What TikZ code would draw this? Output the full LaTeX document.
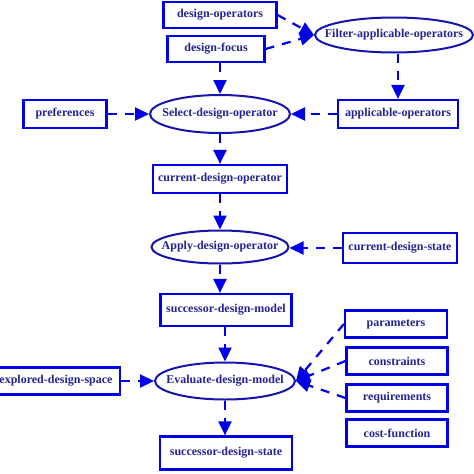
\documentclass[tikz,border=0pt]{standalone}
\usepackage{fontspec}
\setmainfont{Liberation Serif}
\usetikzlibrary{arrows.meta,shapes.geometric}
\definecolor{lineblue}{RGB}{0,0,230}
\definecolor{ellblue}{RGB}{20,20,175}
\definecolor{textblue}{RGB}{35,35,145}
\tikzset{
  lbl/.style={font=\bfseries\fontsize{12}{14}\selectfont,text=textblue},
  box/.style={draw=lineblue,line width=2.2pt,rectangle,inner sep=0pt,lbl},
  proc/.style={draw=ellblue,line width=2pt,ellipse,inner sep=0pt},
  flow/.style={draw=lineblue,line width=2.2pt,dash pattern=on 9pt off 8pt,
    -{Triangle[length=14pt,width=13pt]}}
}
\begin{document}
\begin{tikzpicture}[x=1pt,y=-1pt]
\useasboundingbox (0,0) rectangle (474,474);
\node[box,minimum width=113pt,minimum height=26pt] (dops) at (220,15) {design-operators};
\node[box,minimum width=97pt,minimum height=26pt] (dfocus) at (216,49) {design-focus};
\node[proc,minimum width=158pt,minimum height=35pt,label={[lbl]center:Filter-applicable-operators}] (filter) at (394,35) {};
\node[proc,minimum width=140pt,minimum height=38pt,label={[lbl]center:Select-design-operator}] (select) at (220,114) {};
\node[box,minimum width=83pt,minimum height=28pt] (pref) at (65,114) {preferences};
\node[box,minimum width=120pt,minimum height=28pt] (appops) at (398,114) {applicable-operators};
\node[box,minimum width=134pt,minimum height=28pt] (cdo) at (220,179) {current-design-operator};
\node[proc,minimum width=137pt,minimum height=33pt,label={[lbl]center:Apply-design-operator}] (apply) at (220,247) {};
\node[box,minimum width=114pt,minimum height=30pt] (cds) at (400,248) {current-design-state};
\node[box,minimum width=131pt,minimum height=32pt] (sdm) at (226,310) {successor-design-model};
\node[box,minimum width=102pt,minimum height=27pt] (params) at (396,324) {parameters};
\node[box,minimum width=101pt,minimum height=27pt] (constr) at (397,361) {constraints};
\node[box,minimum width=101pt,minimum height=27pt] (req) at (397,398) {requirements};
\node[box,minimum width=101pt,minimum height=27pt] (costf) at (397,433) {cost-function};
\node[proc,minimum width=140pt,minimum height=37pt,label={[lbl]center:Evaluate-design-model}] (eval) at (225,381) {};
\node[box,minimum width=128pt,minimum height=27pt] (explored) at (56,381) {explored-design-space};
\node[box,minimum width=132pt,minimum height=33pt] (sds) at (226,453) {successor-design-state};

\draw[flow] (dops.east) -- (filter.west);
\draw[flow] (dfocus.east) -- (filter.west);
\draw[flow] (dfocus.south -| select.north) -- (select.north);
\draw[flow] (filter.south -| appops.north) -- (appops.north);
\draw[flow] (pref.east) -- (select.west);
\draw[flow] (appops.west) -- (select.east);
\draw[flow] (select.south) -- (cdo.north);
\draw[flow] (cdo.south) -- (apply.north);
\draw[flow] (cds.west) -- (cds.west -| apply.east);
\draw[flow] (apply.south) -- (apply.south |- sdm.north);
\draw[flow] (sdm.south -| eval.north) -- (eval.north);
\draw[flow] (explored.east) -- (eval.west);
\draw[flow] (params.west) -- (eval.east);
\draw[flow] (constr.west) -- (eval.east);
\draw[flow] (req.west) -- (eval.east);
\draw[flow] (eval.south) -- (eval.south |- sds.north);
\end{tikzpicture}
\end{document}
